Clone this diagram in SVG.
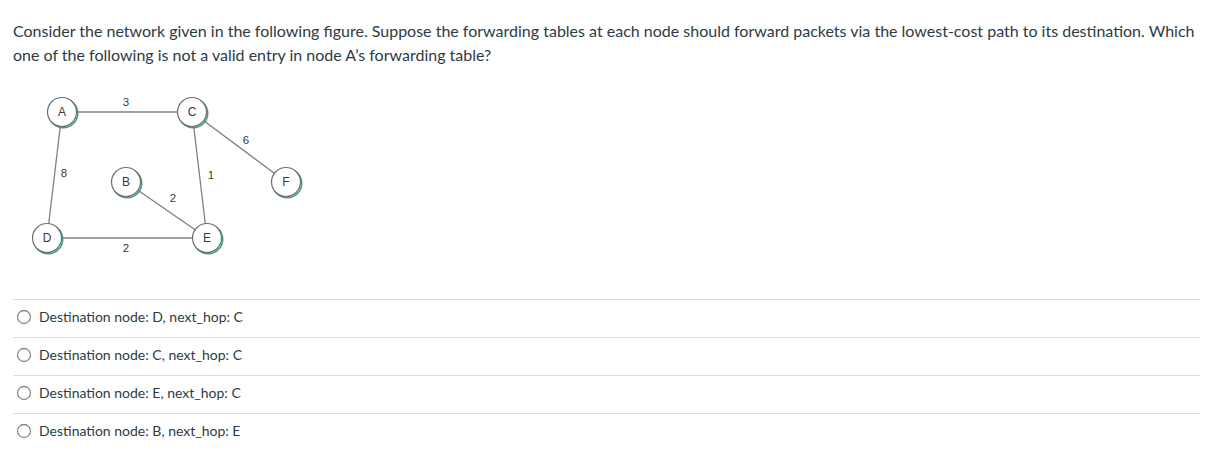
<svg xmlns="http://www.w3.org/2000/svg" width="1210" height="452" viewBox="0 0 1210 452">
<style>
.q{font-family:Lato,"Liberation Sans",sans-serif;font-size:16px;fill:#2d3b45}
.opt{font-family:Lato,"Liberation Sans",sans-serif;font-size:14px;fill:#2d3b45}
.sep{stroke:#dddddd;stroke-width:1}
.radio{fill:#fff;stroke:#8a8a8a;stroke-width:1.3}
.edge{stroke:#808080;stroke-width:1.3;fill:none}
.shadow{fill:none;stroke:#3d9c8c;stroke-width:1.6}
.node{fill:#fff;stroke:#6f6f6f;stroke-width:1.2}
.nl{font-family:"Liberation Sans",Arial,sans-serif;font-size:12px;fill:#3a3a3a;text-anchor:middle}
.el{font-family:"Liberation Sans",Arial,sans-serif;font-size:11.5px;fill:#3a3a3a;text-anchor:middle}
</style>
<rect width="1210" height="452" fill="#fff"/>
<text class="q" x="13" y="37">Consider the network given in the following figure. Suppose the forwarding tables at each node should forward packets via the lowest-cost path to its destination. Which</text>
<text class="q" x="13" y="61">one of the following is not a valid entry in node A’s forwarding table?</text>

<g id="connectors">
<line class="edge" x1="62" y1="112" x2="192" y2="112"/>
<line class="edge" x1="62" y1="112" x2="47" y2="238"/>
<line class="edge" x1="192" y1="112" x2="207" y2="238"/>
<line class="edge" x1="192" y1="112" x2="286" y2="182"/>
<line class="edge" x1="126" y1="182" x2="207" y2="238"/>
<line class="edge" x1="47" y1="238" x2="207" y2="238"/>
<text class="el" x="126" y="106">3</text>
<text class="el" x="246" y="144">6</text>
<text class="el" x="64" y="177">8</text>
<text class="el" x="211" y="179">1</text>
<text class="el" x="173" y="202">2</text>
<text class="el" x="126" y="252">2</text>
</g>

<g id="node-A"><circle class="shadow" cx="63.2" cy="113.2" r="14.5"/><circle class="node" cx="62" cy="112" r="14.5"/><text class="nl" x="62" y="116.3">A</text></g>
<g id="node-C"><circle class="shadow" cx="193.2" cy="113.2" r="14.5"/><circle class="node" cx="192" cy="112" r="14.5"/><text class="nl" x="192" y="116.3">C</text></g>
<g id="node-B"><circle class="shadow" cx="127.2" cy="183.2" r="14.5"/><circle class="node" cx="126" cy="182" r="14.5"/><text class="nl" x="126" y="186.3">B</text></g>
<g id="node-F"><circle class="shadow" cx="287.2" cy="183.2" r="14.5"/><circle class="node" cx="286" cy="182" r="14.5"/><text class="nl" x="286" y="186.3">F</text></g>
<g id="node-D"><circle class="shadow" cx="48.2" cy="239.2" r="14.5"/><circle class="node" cx="47" cy="238" r="14.5"/><text class="nl" x="47" y="242.3">D</text></g>
<g id="node-E"><circle class="shadow" cx="208.2" cy="239.2" r="14.5"/><circle class="node" cx="207" cy="238" r="14.5"/><text class="nl" x="207" y="242.3">E</text></g>

<g id="options">
<line class="sep" x1="13" y1="299.5" x2="1200" y2="299.5"/>
<circle class="radio" cx="24" cy="317" r="6.5"/>
<text class="opt" x="39" y="321.5">Destination node: D, next_hop: C</text>
<line class="sep" x1="13" y1="337.5" x2="1200" y2="337.5"/>
<circle class="radio" cx="24" cy="355" r="6.5"/>
<text class="opt" x="39" y="359.5">Destination node: C, next_hop: C</text>
<line class="sep" x1="13" y1="375.5" x2="1200" y2="375.5"/>
<circle class="radio" cx="24" cy="393" r="6.5"/>
<text class="opt" x="39" y="397.5">Destination node: E, next_hop: C</text>
<line class="sep" x1="13" y1="413.5" x2="1200" y2="413.5"/>
<circle class="radio" cx="24" cy="431" r="6.5"/>
<text class="opt" x="39" y="435.5">Destination node: B, next_hop: E</text>
</g>
</svg>
